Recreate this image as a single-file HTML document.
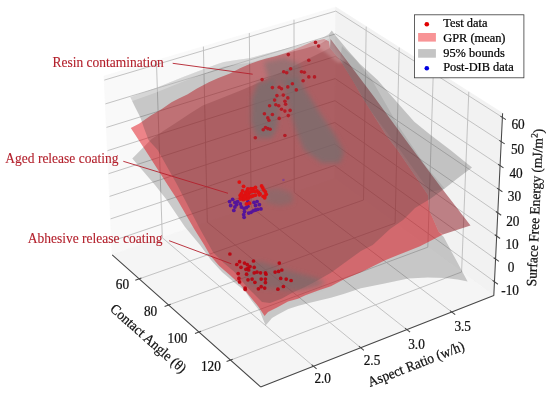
<!DOCTYPE html>
<html><head><meta charset="utf-8"><style>html,body{margin:0;padding:0;background:#fff;width:550px;height:395px;overflow:hidden}svg{display:block}</style></head>
<body>
<svg width="550" height="395" viewBox="0 0 550 395" font-family="'Liberation Serif', 'Times New Roman', serif" fill="#111" stroke="#111" stroke-width="0">
<rect width="550" height="395" fill="#fff"/>
<polygon points="112.2,254.8 334.4,178.6 335.8,7.2 104.1,76.1" fill="#f9f9f9" stroke="#f9f9f9" stroke-width="0.8"/>
<polygon points="334.4,178.6 493.8,295.6 502.6,113.2 335.8,7.2" fill="#f2f2f2" stroke="#f2f2f2" stroke-width="0.8"/>
<polygon points="112.2,254.8 260.6,386.9 493.8,295.6 334.4,178.6" fill="#f5f5f5" stroke="#f5f5f5" stroke-width="0.8"/>
<path d="M139.2 278.9 L363.5 200.0 L366.2 26.6 M168.5 305.0 L395.1 223.2 L399.2 47.5 M199.0 332.0 L427.8 247.2 L433.4 69.2 M230.6 360.1 L461.6 272.0 L468.8 91.8 M313.4 366.2 L162.3 237.7 L156.4 60.5 M360.7 347.7 L207.3 222.2 L203.4 46.6 M406.8 329.6 L251.2 207.1 L249.3 33.0 M451.8 312.0 L294.2 192.4 L294.0 19.7 M111.6 241.2 L334.5 165.5 L494.5 281.7 M110.6 218.9 L334.7 144.1 L495.5 259.0 M109.6 196.4 L334.8 122.5 L496.7 236.1 M108.6 173.7 L335.0 100.7 L497.8 212.8 M107.5 150.7 L335.2 78.6 L498.9 189.4 M106.5 127.4 L335.4 56.4 L500.0 165.6 M105.4 103.9 L335.6 33.9 L501.2 141.6 M104.3 80.1 L335.8 11.1 L502.4 117.3" fill="none" stroke="#bcbcbc" stroke-width="0.9"/>
<path d="M112.2 254.8 L260.6 386.9 M260.6 386.9 L493.8 295.6 M493.8 295.6 L502.6 113.2" fill="none" stroke="#474747" stroke-width="1.05"/>
<path d="M135.3 280.3 L141.4 278.1 M164.6 306.4 L170.7 304.2 M195.0 333.5 L201.1 331.2 M226.6 361.6 L232.7 359.3 M316.6 368.9 L311.6 364.7 M363.9 350.4 L358.9 346.2 M410.1 332.2 L405.0 328.2 M455.2 314.6 L450.0 310.6 M497.9 284.2 L492.6 280.4 M499.0 261.4 L493.7 257.7 M500.1 238.5 L494.8 234.7 M501.2 215.2 L495.9 211.5 M502.4 191.7 L497.0 188.1 M503.5 167.9 L498.1 164.3 M504.7 143.9 L499.3 140.4 M505.9 119.6 L500.4 116.1" fill="none" stroke="#474747" stroke-width="1.05"/>
<text transform="translate(122.5,283.7) scale(1,1.09)" y="4.52" font-size="13.3" text-anchor="middle" stroke-width="0.22">60</text>
<text transform="translate(150.6,311.0) scale(1,1.09)" y="4.52" font-size="13.3" text-anchor="middle" stroke-width="0.22">80</text>
<text transform="translate(177.5,337.9) scale(1,1.09)" y="4.52" font-size="13.3" text-anchor="middle" stroke-width="0.22">100</text>
<text transform="translate(210.9,366.0) scale(1,1.09)" y="4.52" font-size="13.3" text-anchor="middle" stroke-width="0.22">120</text>
<text transform="translate(322.7,378.2) scale(1,1.09)" y="4.52" font-size="13.3" text-anchor="middle" stroke-width="0.22">2.0</text>
<text transform="translate(372.0,360.2) scale(1,1.09)" y="4.52" font-size="13.3" text-anchor="middle" stroke-width="0.22">2.5</text>
<text transform="translate(416.5,343.9) scale(1,1.09)" y="4.52" font-size="13.3" text-anchor="middle" stroke-width="0.22">3.0</text>
<text transform="translate(462.7,325.7) scale(1,1.09)" y="4.52" font-size="13.3" text-anchor="middle" stroke-width="0.22">3.5</text>
<text transform="translate(518.1,124.5) scale(1,1.09)" y="4.52" font-size="13.3" text-anchor="middle" stroke-width="0.22">60</text>
<text transform="translate(517.6,149.1) scale(1,1.09)" y="4.52" font-size="13.3" text-anchor="middle" stroke-width="0.22">50</text>
<text transform="translate(516.1,173.1) scale(1,1.09)" y="4.52" font-size="13.3" text-anchor="middle" stroke-width="0.22">40</text>
<text transform="translate(514.4,196.3) scale(1,1.09)" y="4.52" font-size="13.3" text-anchor="middle" stroke-width="0.22">30</text>
<text transform="translate(512.8,220.8) scale(1,1.09)" y="4.52" font-size="13.3" text-anchor="middle" stroke-width="0.22">20</text>
<text transform="translate(512.1,243.8) scale(1,1.09)" y="4.52" font-size="13.3" text-anchor="middle" stroke-width="0.22">10</text>
<text transform="translate(511.1,266.9) scale(1,1.09)" y="4.52" font-size="13.3" text-anchor="middle" stroke-width="0.22">0</text>
<text transform="translate(510.1,289.9) scale(1,1.09)" y="4.52" font-size="13.3" text-anchor="middle" stroke-width="0.22">-10</text>
<text transform="translate(148.4,338.4) rotate(41.5) scale(1,1.05)" y="4.46" font-size="13.5" text-anchor="middle" stroke-width="0.22">Contact Angle (θ)</text>
<text transform="translate(416.0,364.0) rotate(-21.4) scale(1,1.05)" y="4.46" font-size="13.5" text-anchor="middle" stroke-width="0.22">Aspect Ratio (w/h)</text>
<text transform="translate(535.0,207.5) rotate(-87.4) scale(1,1.05)" y="4.46" font-size="13.5" text-anchor="middle" stroke-width="0.22">Surface Free Energy (mJ/m<tspan font-size="9.5" dy="-5">2</tspan><tspan dy="5">)</tspan></text>
<polygon points="132.3,158.5 151.4,139.2 162.8,131.2 174.2,124.0 190.0,113.5 202.8,105.5 214.2,101.0 225.6,96.4 240.0,90.7 250.0,86.5 265.5,79.5 280.7,72.5 300.0,63.0 315.0,55.5 330.0,48.0 340.2,60.3 352.8,80.5 362.9,98.2 375.6,118.4 386.0,135.0 397.5,150.0 414.6,175.0 428.0,195.0 429.0,209.5 438.7,231.8 443.7,237.1 456.1,260.1 467.6,281.4 457.8,279.6 445.4,278.0 427.7,277.5 408.2,278.5 384.6,283.5 360.9,288.3 343.6,294.0 330.9,297.8 318.2,300.8 308.0,303.2 298.4,305.8 288.3,309.0 278.0,314.4 272.0,318.0 265.6,325.6 259.7,311.1 251.5,300.4 245.0,291.0 235.0,283.0 222.0,272.0 211.0,260.0 200.0,245.0 185.0,227.0 166.8,200.0 155.0,185.0" fill="#414141" fill-opacity="0.25"/>
<polygon points="130.8,128.0 139.4,123.5 150.8,115.5 162.2,108.7 171.5,102.2 178.8,98.6 187.7,94.2 196.5,88.8 208.8,82.3 217.7,78.3 230.0,73.4 240.0,68.2 250.3,63.8 258.0,61.0 265.5,58.8 276.4,56.0 285.5,53.0 301.4,46.5 312.8,41.4 324.2,39.1 329.0,41.5 330.0,48.0 340.2,60.3 352.8,80.5 362.9,98.2 375.6,118.4 386.0,135.0 397.5,150.0 414.6,175.0 428.0,195.0 429.0,209.5 438.7,231.8 442.9,234.6 420.0,246.2 408.2,250.9 384.6,260.4 360.9,272.2 343.6,279.5 330.9,286.2 318.2,290.6 305.4,295.2 298.0,298.8 288.0,301.5 278.0,307.0 268.0,312.0 264.6,316.0 258.1,306.2 249.8,296.3 240.6,285.0 230.0,275.2 219.3,266.0 210.2,255.4 204.1,244.8 194.2,229.0 177.5,200.0 167.7,185.0 145.2,150.0" fill="#e0000a" fill-opacity="0.47"/>
<polygon points="330.5,39.1 372.7,95.0 409.4,145.0 440.0,186.0 470.5,225.5 442.9,234.6 438.7,231.8 429.0,209.5 428.0,195.0 414.6,175.0 397.5,150.0 386.0,135.0 375.6,118.4 362.9,98.2 352.8,80.5 340.2,60.3 330.0,48.0" fill="#82000a" fill-opacity="0.47"/>
<polygon points="130.3,97.2 155.4,88.3 183.2,76.9 203.5,69.3 217.7,63.9 224.0,62.0 236.6,60.1 249.3,58.2 265.0,54.0 285.0,49.0 305.0,44.0 321.0,39.0 329.0,34.0 331.8,30.6 335.1,35.0 347.8,50.2 360.0,64.0 377.6,80.0 386.5,90.2 395.3,100.3 405.4,111.7 414.3,121.8 430.0,134.5 451.0,150.5 472.0,167.6 458.0,178.0 444.7,188.5 430.0,199.0 415.0,208.0 403.0,220.0 390.0,229.0 372.7,245.0 360.9,251.0 343.6,263.5 330.9,272.7 318.2,280.0 305.0,287.0 292.7,292.5 282.0,298.5 270.0,303.0 262.0,302.0 254.8,294.7 246.5,286.4 234.5,272.1 223.9,263.0 213.2,252.4 207.2,241.7 200.0,229.0 185.0,200.0 177.3,185.0 157.7,150.0 148.5,140.0 144.0,128.0 140.5,117.8 134.8,106.4" fill="#414141" fill-opacity="0.265"/>
<polygon points="342.0,46.0 356.0,60.0 372.0,80.0 397.8,125.0 425.0,165.0 444.7,188.5 430.0,192.0 400.0,150.0 370.0,110.0 352.0,80.0 340.0,60.0" fill="#414141" fill-opacity="0.12"/>
<polygon points="130.3,97.2 155.4,88.3 183.2,76.9 203.5,69.3 217.7,63.9 224.0,62.0 236.6,60.1 249.3,58.2 265.0,54.0 285.0,49.0 305.0,44.0 321.0,39.0 329.0,34.0 329.0,38.5 321.0,43.5 305.0,48.5 285.0,53.5 265.0,58.5 249.3,62.7 236.6,64.6 224.0,66.5 217.7,68.4 203.5,73.8 183.2,81.4 155.4,92.8 130.3,101.7" fill="#ffffff" fill-opacity="0.28"/>
<polygon points="312.0,44.0 330.5,39.1 346.0,61.0 338.0,63.0 325.0,52.0" fill="#ffffff" fill-opacity="0.18" filter="url(#bl2)"/>
<defs><filter id="bl" x="-30%" y="-30%" width="160%" height="160%"><feGaussianBlur stdDeviation="2.8"/></filter><filter id="bl2" x="-30%" y="-30%" width="160%" height="160%"><feGaussianBlur stdDeviation="1.5"/></filter></defs>
<g filter="url(#bl)"><polygon points="258.0,82.0 272.0,80.0 279.0,92.0 279.0,112.0 277.0,128.0 272.0,138.0 257.0,138.0 251.0,122.0 252.0,98.0" fill="#707070" fill-opacity="0.70"/><polygon points="285.0,80.0 298.0,78.0 308.0,94.0 320.0,113.0 335.0,135.0 344.0,152.0 340.0,163.0 322.0,163.0 304.0,150.0 296.0,131.0 290.0,111.0 284.0,94.0" fill="#707070" fill-opacity="0.66"/><polygon points="264.0,62.0 285.0,58.0 300.0,64.0 302.0,82.0 290.0,86.0 270.0,86.0" fill="#707070" fill-opacity="0.50"/><polygon points="264.0,190.0 278.0,188.0 292.0,193.0 293.0,203.0 280.0,206.0 266.0,203.0" fill="#707070" fill-opacity="0.45"/><polygon points="250.0,262.0 262.0,262.0 290.0,271.0 313.0,277.0 326.0,282.0 318.0,287.0 300.0,291.0 275.0,289.0 250.0,286.0 243.0,272.0" fill="#707070" fill-opacity="0.55"/></g>
<circle cx="288.3" cy="54.6" r="1.8" fill="#b41c26"/>
<circle cx="308.8" cy="60.3" r="1.8" fill="#b41c26"/>
<circle cx="290.6" cy="68.7" r="1.8" fill="#b41c26"/>
<circle cx="283.7" cy="71.7" r="1.8" fill="#b41c26"/>
<circle cx="286.7" cy="72.8" r="1.8" fill="#b41c26"/>
<circle cx="301.5" cy="71.7" r="1.8" fill="#b41c26"/>
<circle cx="304.3" cy="72.3" r="1.8" fill="#b41c26"/>
<circle cx="262.1" cy="79.6" r="1.8" fill="#b41c26"/>
<circle cx="308.8" cy="76.9" r="1.8" fill="#b41c26"/>
<circle cx="314.5" cy="76.9" r="1.8" fill="#b41c26"/>
<circle cx="303.1" cy="80.8" r="1.8" fill="#b41c26"/>
<circle cx="292.4" cy="83.7" r="1.8" fill="#b41c26"/>
<circle cx="272.4" cy="87.6" r="1.8" fill="#b41c26"/>
<circle cx="279.2" cy="87.2" r="1.8" fill="#b41c26"/>
<circle cx="281.5" cy="88.7" r="1.8" fill="#b41c26"/>
<circle cx="287.8" cy="86.9" r="1.8" fill="#b41c26"/>
<circle cx="296.3" cy="89.9" r="1.8" fill="#b41c26"/>
<circle cx="276.9" cy="95.6" r="1.8" fill="#b41c26"/>
<circle cx="283.3" cy="95.1" r="1.8" fill="#b41c26"/>
<circle cx="287.8" cy="97.9" r="1.8" fill="#b41c26"/>
<circle cx="274.6" cy="100.1" r="1.8" fill="#b41c26"/>
<circle cx="284.9" cy="101.3" r="1.8" fill="#b41c26"/>
<circle cx="285.6" cy="104.2" r="1.8" fill="#b41c26"/>
<circle cx="275.8" cy="104.7" r="1.8" fill="#b41c26"/>
<circle cx="278.7" cy="105.8" r="1.8" fill="#b41c26"/>
<circle cx="269.6" cy="105.8" r="1.8" fill="#b41c26"/>
<circle cx="281.5" cy="109.3" r="1.8" fill="#b41c26"/>
<circle cx="284.9" cy="111.1" r="1.8" fill="#b41c26"/>
<circle cx="290.1" cy="110.4" r="1.8" fill="#b41c26"/>
<circle cx="264.4" cy="113.8" r="1.8" fill="#b41c26"/>
<circle cx="272.4" cy="114.5" r="1.8" fill="#b41c26"/>
<circle cx="288.3" cy="115.6" r="1.8" fill="#b41c26"/>
<circle cx="267.8" cy="117.9" r="1.8" fill="#b41c26"/>
<circle cx="268.9" cy="120.2" r="1.8" fill="#b41c26"/>
<circle cx="279.2" cy="118.4" r="1.8" fill="#b41c26"/>
<circle cx="263.2" cy="129.8" r="1.8" fill="#b41c26"/>
<circle cx="267.8" cy="128.6" r="1.8" fill="#b41c26"/>
<circle cx="270.1" cy="129.3" r="1.8" fill="#b41c26"/>
<circle cx="265.5" cy="127.5" r="1.8" fill="#b41c26"/>
<circle cx="284.9" cy="135.5" r="1.8" fill="#b41c26"/>
<circle cx="255.3" cy="137.7" r="1.8" fill="#b41c26"/>
<circle cx="315.5" cy="42.4" r="1.8" fill="#b41c26"/>
<circle cx="318.6" cy="46.1" r="1.8" fill="#b41c26"/>
<circle cx="229.9" cy="254.0" r="1.85" fill="#bb000c" fill-opacity="0.9"/>
<circle cx="239.6" cy="261.7" r="1.85" fill="#bb000c" fill-opacity="0.9"/>
<circle cx="236.8" cy="264.5" r="1.85" fill="#bb000c" fill-opacity="0.9"/>
<circle cx="244.5" cy="263.1" r="1.85" fill="#bb000c" fill-opacity="0.9"/>
<circle cx="247.3" cy="264.5" r="1.85" fill="#bb000c" fill-opacity="0.9"/>
<circle cx="253.5" cy="261.0" r="1.85" fill="#bb000c" fill-opacity="0.9"/>
<circle cx="241.0" cy="267.3" r="1.85" fill="#bb000c" fill-opacity="0.9"/>
<circle cx="250.0" cy="266.6" r="1.85" fill="#bb000c" fill-opacity="0.9"/>
<circle cx="254.2" cy="267.3" r="1.85" fill="#bb000c" fill-opacity="0.9"/>
<circle cx="245.9" cy="269.3" r="1.85" fill="#bb000c" fill-opacity="0.9"/>
<circle cx="248.7" cy="270.0" r="1.85" fill="#bb000c" fill-opacity="0.9"/>
<circle cx="248.0" cy="268.0" r="1.85" fill="#bb000c" fill-opacity="0.9"/>
<circle cx="238.2" cy="273.5" r="1.85" fill="#bb000c" fill-opacity="0.9"/>
<circle cx="246.6" cy="274.2" r="1.85" fill="#bb000c" fill-opacity="0.9"/>
<circle cx="254.2" cy="272.8" r="1.85" fill="#bb000c" fill-opacity="0.9"/>
<circle cx="257.0" cy="272.1" r="1.85" fill="#bb000c" fill-opacity="0.9"/>
<circle cx="260.5" cy="272.8" r="1.85" fill="#bb000c" fill-opacity="0.9"/>
<circle cx="265.4" cy="272.8" r="1.85" fill="#bb000c" fill-opacity="0.9"/>
<circle cx="266.0" cy="274.2" r="1.85" fill="#bb000c" fill-opacity="0.9"/>
<circle cx="238.9" cy="278.4" r="1.85" fill="#bb000c" fill-opacity="0.9"/>
<circle cx="239.6" cy="281.9" r="1.85" fill="#bb000c" fill-opacity="0.9"/>
<circle cx="248.0" cy="279.8" r="1.85" fill="#bb000c" fill-opacity="0.9"/>
<circle cx="252.1" cy="279.1" r="1.85" fill="#bb000c" fill-opacity="0.9"/>
<circle cx="254.9" cy="282.3" r="1.85" fill="#bb000c" fill-opacity="0.9"/>
<circle cx="261.2" cy="279.1" r="1.85" fill="#bb000c" fill-opacity="0.9"/>
<circle cx="265.4" cy="279.1" r="1.85" fill="#bb000c" fill-opacity="0.9"/>
<circle cx="265.4" cy="282.6" r="1.85" fill="#bb000c" fill-opacity="0.9"/>
<circle cx="245.2" cy="288.1" r="1.85" fill="#bb000c" fill-opacity="0.9"/>
<circle cx="245.2" cy="289.5" r="1.85" fill="#bb000c" fill-opacity="0.9"/>
<circle cx="258.4" cy="288.8" r="1.85" fill="#bb000c" fill-opacity="0.9"/>
<circle cx="261.2" cy="286.7" r="1.85" fill="#bb000c" fill-opacity="0.9"/>
<circle cx="264.7" cy="288.1" r="1.85" fill="#bb000c" fill-opacity="0.9"/>
<circle cx="279.3" cy="263.1" r="1.85" fill="#bb000c" fill-opacity="0.9"/>
<circle cx="275.1" cy="272.1" r="1.85" fill="#bb000c" fill-opacity="0.9"/>
<circle cx="278.6" cy="271.4" r="1.85" fill="#bb000c" fill-opacity="0.9"/>
<circle cx="281.8" cy="270.0" r="1.85" fill="#bb000c" fill-opacity="0.9"/>
<circle cx="280.7" cy="278.4" r="1.85" fill="#bb000c" fill-opacity="0.9"/>
<circle cx="286.2" cy="279.1" r="1.85" fill="#bb000c" fill-opacity="0.9"/>
<circle cx="291.1" cy="280.5" r="1.85" fill="#bb000c" fill-opacity="0.9"/>
<circle cx="283.4" cy="286.5" r="1.85" fill="#bb000c" fill-opacity="0.9"/>
<circle cx="277.9" cy="289.2" r="1.85" fill="#bb000c" fill-opacity="0.9"/>
<circle cx="229.6" cy="201.6" r="1.9" fill="#55149a"/>
<circle cx="230.7" cy="205.5" r="1.9" fill="#55149a"/>
<circle cx="232.6" cy="199.3" r="1.9" fill="#55149a"/>
<circle cx="234.9" cy="202.4" r="1.9" fill="#55149a"/>
<circle cx="236.5" cy="204.7" r="1.9" fill="#55149a"/>
<circle cx="234.9" cy="207.0" r="1.9" fill="#55149a"/>
<circle cx="237.6" cy="201.6" r="1.9" fill="#55149a"/>
<circle cx="240.3" cy="203.9" r="1.9" fill="#55149a"/>
<circle cx="241.4" cy="207.0" r="1.9" fill="#55149a"/>
<circle cx="244.1" cy="208.5" r="1.9" fill="#55149a"/>
<circle cx="244.5" cy="211.6" r="1.9" fill="#55149a"/>
<circle cx="243.7" cy="214.6" r="1.9" fill="#55149a"/>
<circle cx="244.1" cy="217.3" r="1.9" fill="#55149a"/>
<circle cx="246.4" cy="207.7" r="1.9" fill="#55149a"/>
<circle cx="247.9" cy="206.2" r="1.9" fill="#55149a"/>
<circle cx="248.7" cy="213.1" r="1.9" fill="#55149a"/>
<circle cx="251.0" cy="212.3" r="1.9" fill="#55149a"/>
<circle cx="253.2" cy="210.8" r="1.9" fill="#55149a"/>
<circle cx="255.5" cy="210.0" r="1.9" fill="#55149a"/>
<circle cx="257.8" cy="209.3" r="1.9" fill="#55149a"/>
<circle cx="260.9" cy="208.9" r="1.9" fill="#55149a"/>
<circle cx="254.0" cy="202.4" r="1.9" fill="#55149a"/>
<circle cx="257.1" cy="201.6" r="1.9" fill="#55149a"/>
<circle cx="259.4" cy="204.7" r="1.9" fill="#55149a"/>
<circle cx="255.5" cy="205.5" r="1.9" fill="#55149a"/>
<circle cx="233.8" cy="210.4" r="1.9" fill="#55149a"/>
<circle cx="247.9" cy="201.6" r="1.9" fill="#55149a"/>
<circle cx="239.3" cy="182.1" r="1.9" fill="#e01010"/>
<circle cx="243.6" cy="186.3" r="1.9" fill="#e01010"/>
<circle cx="242.5" cy="190.9" r="1.9" fill="#e01010"/>
<circle cx="241.4" cy="193.6" r="1.9" fill="#e01010"/>
<circle cx="240.2" cy="195.5" r="1.9" fill="#e01010"/>
<circle cx="242.1" cy="196.6" r="1.9" fill="#e01010"/>
<circle cx="244.4" cy="195.1" r="1.9" fill="#e01010"/>
<circle cx="245.6" cy="192.4" r="1.9" fill="#e01010"/>
<circle cx="247.1" cy="190.9" r="1.9" fill="#e01010"/>
<circle cx="246.3" cy="195.8" r="1.9" fill="#e01010"/>
<circle cx="248.6" cy="193.6" r="1.9" fill="#e01010"/>
<circle cx="250.1" cy="192.0" r="1.9" fill="#e01010"/>
<circle cx="250.9" cy="188.6" r="1.9" fill="#e01010"/>
<circle cx="253.2" cy="188.6" r="1.9" fill="#e01010"/>
<circle cx="255.5" cy="187.5" r="1.9" fill="#e01010"/>
<circle cx="254.7" cy="191.3" r="1.9" fill="#e01010"/>
<circle cx="257.0" cy="190.9" r="1.9" fill="#e01010"/>
<circle cx="258.5" cy="192.4" r="1.9" fill="#e01010"/>
<circle cx="260.1" cy="193.9" r="1.9" fill="#e01010"/>
<circle cx="261.6" cy="185.9" r="1.9" fill="#e01010"/>
<circle cx="262.7" cy="187.8" r="1.9" fill="#e01010"/>
<circle cx="263.9" cy="190.1" r="1.9" fill="#e01010"/>
<circle cx="265.4" cy="192.0" r="1.9" fill="#e01010"/>
<circle cx="266.2" cy="194.3" r="1.9" fill="#e01010"/>
<circle cx="264.6" cy="196.6" r="1.9" fill="#e01010"/>
<circle cx="240.6" cy="198.9" r="1.9" fill="#e01010"/>
<circle cx="243.3" cy="199.7" r="1.9" fill="#e01010"/>
<circle cx="246.3" cy="198.9" r="1.9" fill="#e01010"/>
<circle cx="248.6" cy="198.1" r="1.9" fill="#e01010"/>
<circle cx="250.9" cy="196.6" r="1.9" fill="#e01010"/>
<circle cx="253.2" cy="195.8" r="1.9" fill="#e01010"/>
<circle cx="255.5" cy="195.1" r="1.9" fill="#e01010"/>
<circle cx="252.4" cy="191.3" r="1.9" fill="#e01010"/>
<circle cx="247.8" cy="189.0" r="1.9" fill="#e01010"/>
<circle cx="244.0" cy="198.1" r="1.9" fill="#e01010"/>
<circle cx="241.8" cy="195.5" r="1.9" fill="#e01010"/>
<circle cx="244.8" cy="197.1" r="1.9" fill="#e01010"/>
<circle cx="247.9" cy="195.5" r="1.9" fill="#e01010"/>
<circle cx="251.7" cy="196.3" r="1.9" fill="#e01010"/>
<circle cx="240.3" cy="198.6" r="1.9" fill="#e01010"/>
<circle cx="246.4" cy="203.9" r="1.9" fill="#e01010"/>
<circle cx="249.4" cy="203.2" r="1.9" fill="#e01010"/>
<circle cx="263.2" cy="196.3" r="1.9" fill="#e01010"/>
<circle cx="264.7" cy="197.8" r="1.9" fill="#e01010"/>
<circle cx="259.4" cy="194.8" r="1.9" fill="#e01010"/>
<circle cx="283.4" cy="180.0" r="1.3" fill="#7a3a9a" fill-opacity="0.7"/>
<text transform="translate(52.5,66.8) scale(1,1.05)" font-size="13.5" fill="#b3202c" stroke="#b3202c" stroke-width="0.10">Resin contamination</text>
<text transform="translate(5.3,163.3) scale(1,1.05)" font-size="13.5" fill="#b3202c" stroke="#b3202c" stroke-width="0.10">Aged release coating</text>
<text transform="translate(27.8,242.8) scale(1,1.05)" font-size="13.5" fill="#b3202c" stroke="#b3202c" stroke-width="0.10">Abhesive release coating</text>
<path d="M172.7 63.3 L252.7 74.2 M123.3 161.3 L228 193.3 M169.1 240.7 L231.3 263.8" stroke="#b3202c" stroke-width="0.9" fill="none"/>
<rect x="414.4" y="14.8" width="109.5" height="63" fill="#fff" stroke="#3a3a3a" stroke-width="0.8"/>
<circle cx="426.8" cy="24.2" r="2.3" fill="#e00000"/>
<rect x="418.1" y="33" width="17.8" height="8.6" fill="#f89496"/>
<rect x="418.1" y="49.1" width="17.8" height="8.6" fill="#c4c4c4"/>
<circle cx="426.8" cy="68.3" r="2.3" fill="#0000e0"/>
<text transform="translate(443.2,27.1) scale(1,1.05)" font-size="12.4" fill="#000" stroke="#000" stroke-width="0.22">Test data</text>
<text transform="translate(443.2,41.5) scale(1,1.05)" font-size="12.4" fill="#000" stroke="#000" stroke-width="0.22">GPR (mean)</text>
<text transform="translate(443.2,56.5) scale(1,1.05)" font-size="12.4" fill="#000" stroke="#000" stroke-width="0.22">95% bounds</text>
<text transform="translate(443.2,71.2) scale(1,1.05)" font-size="12.4" fill="#000" stroke="#000" stroke-width="0.22">Post-DIB data</text>
</svg>
</body></html>
